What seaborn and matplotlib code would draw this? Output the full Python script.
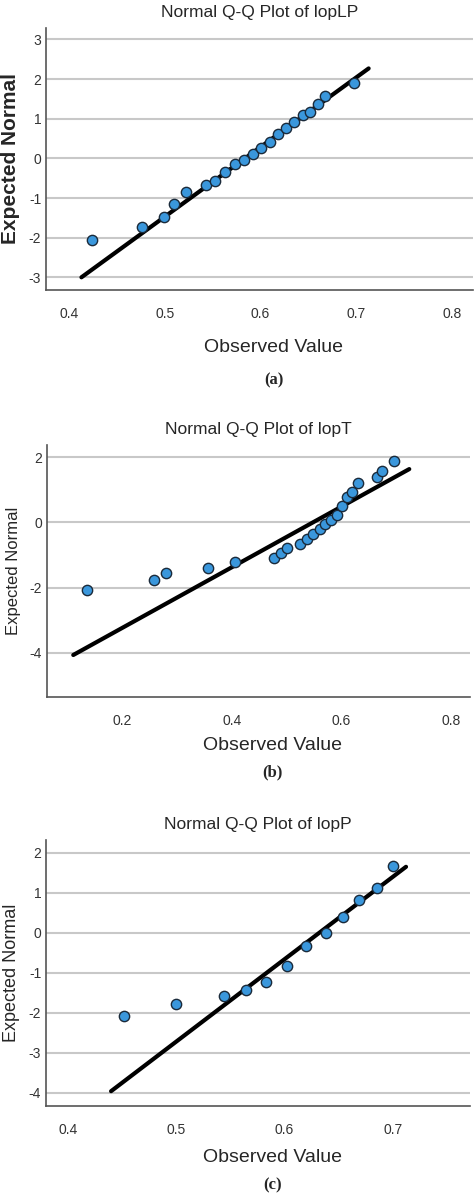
import matplotlib
matplotlib.use("Agg")
import matplotlib.pyplot as plt
import seaborn as sns
import pandas as pd

sns.set_style("white")
plt.rcParams['font.family'] = ['Liberation Sans', 'DejaVu Sans']

a_obs = [0.424, 0.476, 0.499, 0.510, 0.522, 0.543, 0.553, 0.563, 0.573, 0.583, 0.592,
         0.601, 0.610, 0.618, 0.627, 0.635, 0.644, 0.652, 0.660, 0.667, 0.698]
a_exp = [-2.06, -1.74, -1.48, -1.15, -0.86, -0.67, -0.56, -0.35, -0.13, -0.03, 0.12,
         0.25, 0.42, 0.62, 0.77, 0.93, 1.10, 1.18, 1.36, 1.58, 1.90]
a_line_x = [0.413, 0.713]
a_line_y = [-3.0, 2.27]

b_obs = [0.135, 0.258, 0.280, 0.356, 0.405, 0.476, 0.489, 0.501, 0.525, 0.537, 0.549,
         0.560, 0.570, 0.581, 0.592, 0.601, 0.611, 0.620, 0.630, 0.665, 0.674, 0.697]
b_exp = [-2.07, -1.76, -1.55, -1.41, -1.22, -1.08, -0.93, -0.79, -0.65, -0.51, -0.36,
         -0.19, -0.05, 0.07, 0.22, 0.51, 0.77, 0.94, 1.20, 1.40, 1.57, 1.89]
b_line_x = [0.110, 0.724]
b_line_y = [-4.07, 1.64]

c_obs = [0.452, 0.500, 0.544, 0.564, 0.583, 0.602, 0.620, 0.638, 0.654, 0.669, 0.685, 0.700]
c_exp = [-2.07, -1.77, -1.58, -1.43, -1.24, -0.83, -0.33, 0.0, 0.40, 0.83, 1.13, 1.67]
c_line_x = [0.440, 0.712]
c_line_y = [-3.96, 1.65]

W, H = 474, 1196
fig = plt.figure(figsize=(W/100, H/100), dpi=100)

panels = [
    dict(obs=a_obs, exp=a_exp, lx=a_line_x, ly=a_line_y, title="Normal Q-Q Plot of lopLP",
         rect=[46, 28, 473, 290], xlim=(0.376, 0.822), ylim=(-3.32, 3.29),
         xt=[0.4, 0.5, 0.6, 0.7, 0.8], yt=[-3, -2, -1, 0, 1, 2, 3], lab="(a)",
         xl_y=348, cap_y=380, yl_size=15, yl_w="bold"),
    dict(obs=b_obs, exp=b_exp, lx=b_line_x, ly=b_line_y, title="Normal Q-Q Plot of lopT",
         rect=[47, 445, 470, 697], xlim=(0.062, 0.835), ylim=(-5.36, 2.38),
         xt=[0.2, 0.4, 0.6, 0.8], yt=[-4, -2, 0, 2], lab="(b)",
         xl_y=745, cap_y=772, yl_size=12, yl_w="normal"),
    dict(obs=c_obs, exp=c_exp, lx=c_line_x, ly=c_line_y, title="Normal Q-Q Plot of lopP",
         rect=[46, 840, 470, 1106], xlim=(0.380, 0.771), ylim=(-4.33, 2.32),
         xt=[0.4, 0.5, 0.6, 0.7], yt=[-4, -3, -2, -1, 0, 1, 2], lab="(c)",
         xl_y=1157, cap_y=1185, yl_size=13, yl_w="normal"),
]

for p in panels:
    l, t, r, b = p["rect"]
    ax = fig.add_axes([l/W, 1 - b/H, (r-l)/W, (b-t)/H])
    for yv in p["yt"]:
        ax.axhline(yv, color="#c8c8c8", lw=1.5, zorder=0)
    sns.lineplot(x=p["lx"], y=p["ly"], ax=ax, color="black", lw=3, zorder=2)
    sns.scatterplot(x=p["obs"], y=p["exp"], ax=ax, color="#3a97dc", edgecolor="#1a2a3a",
                    linewidth=1, s=55, zorder=3)
    ax.set_xlim(*p["xlim"]); ax.set_ylim(*p["ylim"])
    ax.set_xticks(p["xt"]); ax.set_yticks(p["yt"])
    ax.set_xticklabels([f"{v:g}" for v in p["xt"]])
    ax.set_yticklabels([f"{v:g}" for v in p["yt"]])
    ax.tick_params(labelsize=10, length=0, colors="#333333")
    ax.tick_params(axis="x", pad=12)
    for s in ["top", "right"]:
        ax.spines[s].set_visible(False)
    for s in ["left", "bottom"]:
        ax.spines[s].set_color("#555555"); ax.spines[s].set_linewidth(1.2)
    ax.set_title(p["title"], fontsize=12.5, pad=8)
    ax.set_ylabel("Expected Normal", fontsize=p["yl_size"], labelpad=6, fontweight=p["yl_w"])
    cx = (l + r) / 2 / W + 0.03
    fig.text(cx, 1 - p["xl_y"]/H, "Observed Value", ha="center", va="center", fontsize=14)
    fig.text(cx, 1 - p["cap_y"]/H, p["lab"], ha="center", va="center", fontsize=12,
             fontweight="bold", family="Liberation Serif")

fig.savefig("out.png", dpi=100)
